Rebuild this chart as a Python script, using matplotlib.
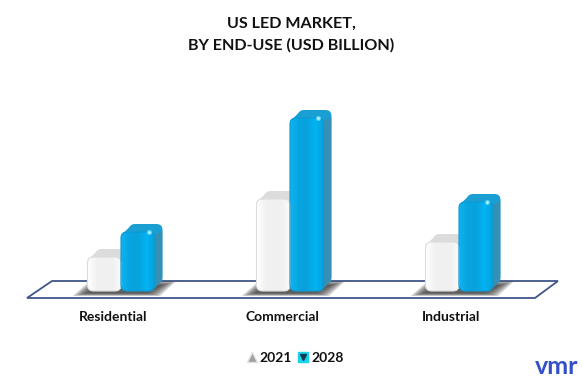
import numpy as np
import matplotlib
matplotlib.use('Agg')
import matplotlib.pyplot as plt
from matplotlib.colors import LinearSegmentedColormap
from matplotlib.legend_handler import HandlerTuple
from matplotlib.lines import Line2D
from matplotlib.patches import FancyBboxPatch, Polygon

# ── Data (no axis in the source, values are read in relative units) ──
categories = ['Residential', 'Commercial', 'Industrial']
values_2021 = [3.4, 9.2, 4.9]
values_2028 = [5.9, 17.3, 8.9]
years = ['2021', '2028']

plt.rcParams['font.family'] = ['Lato', 'DejaVu Sans']

fig = plt.figure(figsize=(5.83, 3.79), dpi=100)
ax = fig.add_axes([0, 88 / 379, 1, 291 / 379])

# one px in data units
PX = 1 / 169
PY = 1 / 10
ax.set_xlim(-121 * PX, 462 * PX)
ax.set_ylim(0, 29.1)

BAR_W = 33.5 * PX
DX = 8 * PX
DY = 8 * PY
R = 6 * PX
ASPECT = PY / PX

white_cmap = LinearSegmentedColormap.from_list('w', ['#ffffff', '#f1f1f1', '#f0f0f0', '#f1f1f1', '#fbfbfb'])
blue_cmap = LinearSegmentedColormap.from_list('b', ['#10b4f0', '#06a4e0', '#08a2dc', '#00b4f4', '#0aa0d8'])


def rounded(x, y, w, h, **kw):
    p = FancyBboxPatch((x, y), w, h, boxstyle=f'round,pad=0,rounding_size={R}',
                       mutation_aspect=ASPECT, clip_on=False, **kw)
    ax.add_patch(p)
    return p


def draw_bar(x, value, cmap, top_col, side_col, edge_col):
    # back face carries the rounded top, side goes over it, front last
    rounded(x + DX, DY, BAR_W, value, fc=top_col, ec='none', zorder=3)
    ax.add_patch(Polygon([(x + 1.5 * PX, value - 2 * PY),
                          (x + DX + 1.5 * PX, value + DY - 2 * PY),
                          (x + BAR_W + DX - 2 * PX, value + DY - 2 * PY),
                          (x + BAR_W - 2 * PX, value - 2 * PY)],
                         fc=top_col, ec='none', zorder=3, clip_on=False))
    ax.add_patch(Polygon([(x + BAR_W - 3 * PX, value - 5 * PY),
                          (x + BAR_W + DX - 0.3 * PX, value + DY - 7 * PY),
                          (x + BAR_W + DX - 0.3 * PX, DY + 2 * PY),
                          (x + BAR_W - 3 * PX, 0)],
                         fc=side_col, ec='none', zorder=3, clip_on=False))
    face = rounded(x, 0, BAR_W, value, fc='none', ec=edge_col, lw=0.8, zorder=5)
    grad = np.linspace(0, 1, 64).reshape(1, -1)
    im = ax.imshow(grad, cmap=cmap, aspect='auto', extent=(x, x + BAR_W, 0, value), zorder=4)
    im.set_clip_path(face)


def draw_shadow(x, w):
    # soft grey shadow on the floor, several faint layers
    for k in np.linspace(0, 1, 12):
        g = 14 * (1 - k)
        ax.add_patch(Polygon([(x - (15 - g) * PX, (-5 + g * 0.2) * PY),
                              (x + (2 + g * 0.5) * PX, (10 - g * 0.3) * PY),
                              (x + w + (22 - g) * PX, (10 - g * 0.3) * PY),
                              (x + w + (6 - g) * PX, (-5 + g * 0.2) * PY)],
                             fc='#3c3c3c', ec='none', alpha=0.13, zorder=2, clip_on=False))


# floor
ax.add_patch(Polygon([(27 * PX - 121 * PX, -7 * PY), (52 * PX - 121 * PX, 10 * PY),
                      (558 * PX - 121 * PX, 10 * PY), (535 * PX - 121 * PX, -7 * PY)],
                     closed=True, fc='white', ec='#3e5688', lw=1.3, zorder=1, clip_on=False))

x_pos = np.arange(len(categories))
for i, x in enumerate(x_pos):
    draw_shadow(x - BAR_W, 2 * BAR_W)
    draw_bar(x - BAR_W, values_2021[i], white_cmap, '#dcdcdc', '#cfcfcf', '#dcdcdc')
    draw_bar(x, values_2028[i], blue_cmap, '#1a9fd2', '#368fb4', '#0a9ad2')
    # highlight on the blue bar corner
    ax.scatter([x + BAR_W - 5 * PX], [values_2028[i] - 0.5 * PY], s=14, c='#5fdcff',
               ec='none', alpha=0.8, zorder=6, clip_on=False)
    ax.scatter([x + BAR_W - 5 * PX], [values_2028[i] - 0.5 * PY], s=3, c='#d8fbff',
               ec='none', zorder=6, clip_on=False)

# ── Axis ──
ax.set_xticks(x_pos - 8 * PX)
ax.set_xticklabels(categories, fontsize=10, fontweight='bold', color='#111111')
ax.tick_params(axis='x', length=0, pad=14.5)
ax.set_yticks([])
for s in ax.spines.values():
    s.set_visible(False)
ax.patch.set_visible(False)

# ── Title ──
fig.text(291.5 / 583, 1 - 34.5 / 379, 'US LED MARKET,\nBY END-USE (USD BILLION)', ha='center', va='center',
         fontsize=11.6, fontweight='bold', color='#111111', linespacing=1.65)

# ── Legend ──
h_2021 = (Line2D([], [], ls='', marker='^', ms=6.5, mfc='#a0a0a0', mec='#e0e0e0'),)
h_2028 = (Line2D([], [], ls='', marker='s', ms=6.5, mfc='#19d3ee', mec='#19d3ee'),
          Line2D([], [], ls='', marker='v', ms=4, mfc='#123c4c', mec='#123c4c'))
fig.legend([h_2021, h_2028], years, handler_map={tuple: HandlerTuple(ndivide=1, pad=0)},
           loc='center', bbox_to_anchor=(295 / 583, 1 - 358 / 379), ncol=2, frameon=False,
           prop={'size': 10, 'weight': 'bold'}, handlelength=0.7, handletextpad=0.25,
           columnspacing=0.4, labelcolor='#111111')

# ── Logo ──
fig.text(557 / 583, 1 - 366 / 379, 'vmr', ha='center', va='center', fontsize=18,
         color='#3450c8', fontweight='bold')

fig.savefig('out.png', dpi=100)
